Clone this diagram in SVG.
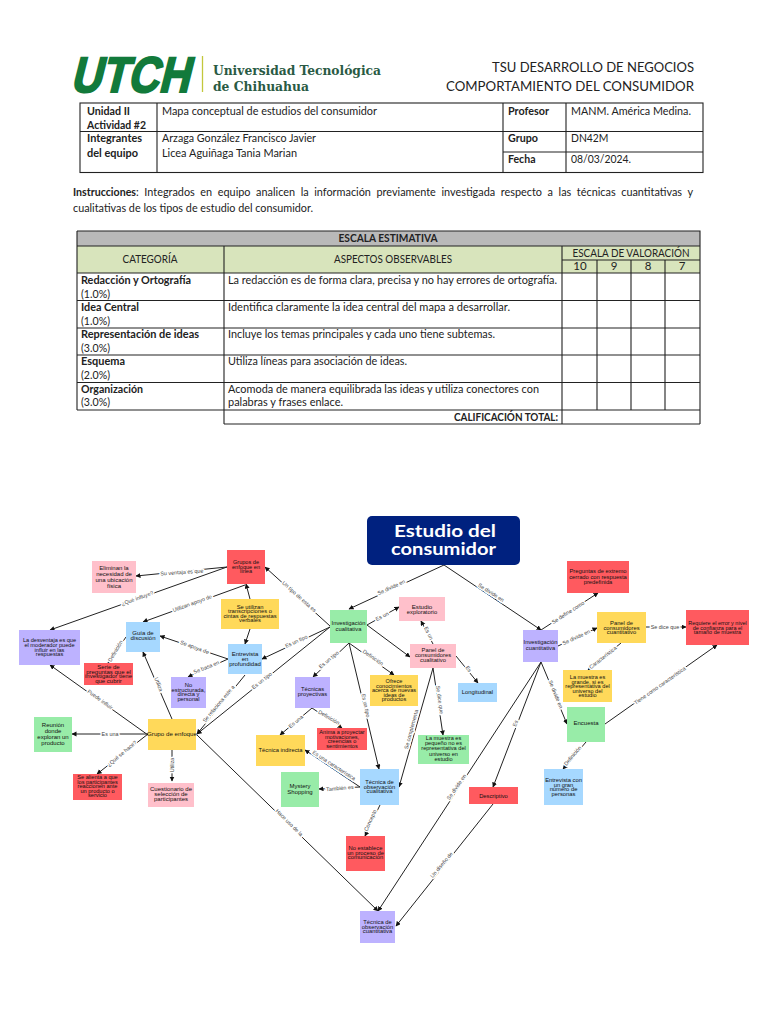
<svg xmlns="http://www.w3.org/2000/svg" width="768" height="1024" viewBox="0 0 768 1024">
<style>
.h{font-family:Lato,"Open Sans","Liberation Sans",sans-serif;fill:#222;font-size:11.5px}
.b{font-weight:700}
.c{text-anchor:middle}
.tl{fill:none;stroke:#222;stroke-width:1.1}
.n{font-family:"Liberation Sans",Arial,sans-serif;fill:#111;text-anchor:middle;font-size:5.8px}
.l{font-family:"Liberation Sans",Arial,sans-serif;fill:#444;text-anchor:middle;font-size:5.4px;paint-order:stroke;stroke:#fff;stroke-width:3px;stroke-linejoin:round}
.e{fill:none;stroke:#222;stroke-width:1;marker-end:url(#a)}
.red{fill:#ff5a5f}.pink{fill:#ffc0cb}.yel{fill:#ffd95a}.blue{fill:#a6d8ff}.pur{fill:#bdb2ff}.grn{fill:#98eca8}
</style>
<defs><marker id="a" markerUnits="userSpaceOnUse" markerWidth="6" markerHeight="6" refX="4.5" refY="2.5" orient="auto"><path d="M0 0L5 2.5L0 5Z" fill="#111"/></marker></defs>
<rect width="768" height="1024" fill="#fff"/>

<g id="logo">
<text x="0" y="0" transform="translate(70 92) skewX(-14)" font-family="Liberation Sans,sans-serif" font-weight="700" font-size="50" fill="#127a3b" stroke="#127a3b" stroke-width="2" textLength="119" lengthAdjust="spacingAndGlyphs">UTCH</text>
<line x1="202.500" y1="56" x2="202.500" y2="92" stroke="#c3c73c" stroke-width="1.300"/>
<text x="213" y="75" font-family="DejaVu Serif Condensed,DejaVu Serif,serif" font-weight="700" font-size="13" fill="#2a5a44" textLength="168" lengthAdjust="spacingAndGlyphs">Universidad Tecnológica</text>
<text x="213" y="91" font-family="DejaVu Serif Condensed,DejaVu Serif,serif" font-weight="700" font-size="13" fill="#2a5a44" textLength="96" lengthAdjust="spacingAndGlyphs">de Chihuahua</text>
</g>
<text class="h" x="492" y="72" style="font-size:14px" textLength="202" lengthAdjust="spacingAndGlyphs">TSU DESARROLLO DE NEGOCIOS</text>
<text class="h" x="446" y="91" style="font-size:14px" textLength="248" lengthAdjust="spacingAndGlyphs">COMPORTAMIENTO DEL CONSUMIDOR</text>

<g id="tabla-datos">
<rect class="tl" x="80" y="103" width="623" height="69.500"/>
<path class="tl" d="M80 131.500H703M157 103V172.500M503 103V172.500M566 103V172.500M503 152H703"/>
<text class="h b" x="87" y="115" textLength="43" lengthAdjust="spacingAndGlyphs">Unidad II</text>
<text class="h b" x="87" y="129" textLength="59" lengthAdjust="spacingAndGlyphs">Actividad #2</text>
<text class="h b" x="87" y="142" textLength="55" lengthAdjust="spacingAndGlyphs">Integrantes</text>
<text class="h b" x="87" y="157" textLength="51" lengthAdjust="spacingAndGlyphs">del equipo</text>
<text class="h" x="162" y="115" textLength="215" lengthAdjust="spacingAndGlyphs">Mapa conceptual de estudios del consumidor</text>
<text class="h" x="162" y="142" textLength="154" lengthAdjust="spacingAndGlyphs">Arzaga González Francisco Javier</text>
<text class="h" x="162" y="157" textLength="135" lengthAdjust="spacingAndGlyphs">Licea Aguiñaga Tania Marian</text>
<text class="h b" x="508" y="115" textLength="41" lengthAdjust="spacingAndGlyphs">Profesor</text>
<text class="h b" x="508" y="142" textLength="30" lengthAdjust="spacingAndGlyphs">Grupo</text>
<text class="h b" x="508" y="163" textLength="27.500" lengthAdjust="spacingAndGlyphs">Fecha</text>
<text class="h" x="571" y="115" textLength="120" lengthAdjust="spacingAndGlyphs">MANM. América Medina.</text>
<text class="h" x="571" y="142" textLength="37.500" lengthAdjust="spacingAndGlyphs">DN42M</text>
<text class="h" x="571" y="163" textLength="60" lengthAdjust="spacingAndGlyphs">08/03/2024.</text>
</g>

<text class="h b" x="73" y="196" textLength="63" lengthAdjust="spacingAndGlyphs">Instrucciones</text>
<text class="h" x="136" y="196" word-spacing="3" textLength="557" lengthAdjust="spacingAndGlyphs">: Integrados en equipo analicen la información previamente investigada respecto a las técnicas cuantitativas y</text>
<text class="h" x="73" y="212" textLength="240" lengthAdjust="spacingAndGlyphs">cualitativas de los tipos de estudio del consumidor.</text>

<g id="tabla-escala">
<rect x="77" y="231" width="623" height="15" fill="#b9b9b9"/>
<rect x="77" y="246" width="623" height="27" fill="#d8e4bc"/>
<path class="tl" d="M77 231H700V410M77 231V410M77 246H700M77 273H700M77 300.500H700M77 328H700M77 355H700M77 382.500H700M77 410H700M224 246V424M562 246V424M562 260H700M597 260V410M631 260V410M665 260V410M224 424H700M700 410V424"/>
<text class="h b c" x="388" y="242" textLength="99" lengthAdjust="spacingAndGlyphs">ESCALA ESTIMATIVA</text>
<text class="h c" x="150" y="263" textLength="55" lengthAdjust="spacingAndGlyphs">CATEGORÍA</text>
<text class="h c" x="393" y="263" textLength="118" lengthAdjust="spacingAndGlyphs">ASPECTOS OBSERVABLES</text>
<text class="h c" x="631" y="257" textLength="117" lengthAdjust="spacingAndGlyphs">ESCALA DE VALORACIÓN</text>
<text class="h c" x="580" y="270">10</text><text class="h c" x="614" y="270">9</text><text class="h c" x="648" y="270">8</text><text class="h c" x="682" y="270">7</text>
<text class="h b" x="81" y="284" textLength="110" lengthAdjust="spacingAndGlyphs">Redacción y Ortografía</text>
<text class="h" x="81" y="298" textLength="29" lengthAdjust="spacingAndGlyphs">(1.0%)</text>
<text class="h b" x="81" y="311" textLength="58" lengthAdjust="spacingAndGlyphs">Idea Central</text>
<text class="h" x="81" y="325" textLength="29" lengthAdjust="spacingAndGlyphs">(1.0%)</text>
<text class="h b" x="81" y="338" textLength="118" lengthAdjust="spacingAndGlyphs">Representación de ideas</text>
<text class="h" x="81" y="352" textLength="29" lengthAdjust="spacingAndGlyphs">(3.0%)</text>
<text class="h b" x="81" y="365" textLength="44" lengthAdjust="spacingAndGlyphs">Esquema</text>
<text class="h" x="81" y="379" textLength="29" lengthAdjust="spacingAndGlyphs">(2.0%)</text>
<text class="h b" x="81" y="393" textLength="62" lengthAdjust="spacingAndGlyphs">Organización</text>
<text class="h" x="81" y="406" textLength="29" lengthAdjust="spacingAndGlyphs">(3.0%)</text>
<text class="h" x="228" y="284" textLength="329" lengthAdjust="spacingAndGlyphs">La redacción es de forma clara, precisa y no hay errores de ortografía.</text>
<text class="h" x="228" y="311" textLength="282" lengthAdjust="spacingAndGlyphs">Identifica claramente la idea central del mapa a desarrollar.</text>
<text class="h" x="228" y="338" textLength="267" lengthAdjust="spacingAndGlyphs">Incluye los temas principales y cada uno tiene subtemas.</text>
<text class="h" x="228" y="365" textLength="179" lengthAdjust="spacingAndGlyphs">Utiliza líneas para asociación de ideas.</text>
<text class="h" x="228" y="393" textLength="311" lengthAdjust="spacingAndGlyphs">Acomoda de manera equilibrada las ideas y utiliza conectores con</text>
<text class="h" x="228" y="406" textLength="115" lengthAdjust="spacingAndGlyphs">palabras y frases enlace.</text>
<text class="h b" x="454" y="421" textLength="104" lengthAdjust="spacingAndGlyphs">CALIFICACIÓN TOTAL:</text>
</g>

<g id="conectores">
<path class="e" d="M444 565L349 609"/><text class="l" transform="translate(392 589) rotate(-25)">Se divide en</text>
<path class="e" d="M444 565L541 630"/><text class="l" transform="translate(490 594) rotate(33)">Se divide en</text>
<path class="e" d="M330 626L265 567"/><text class="l" transform="translate(298 598) rotate(42)">Un tipo de esta es</text>
<path class="e" d="M330 627L262 659"/><text class="l" transform="translate(297 643) rotate(-25)">Es un tipo</text>
<path class="e" d="M330 627L197 734"/><text class="l" transform="translate(263 682) rotate(-38)">Es un tipo</text>
<path class="e" d="M245 675L197 734"/><text class="l" transform="translate(220 705) rotate(-50)">Se relaciona este a</text>
<path class="e" d="M197 735L378 911"/><text class="l" transform="translate(288 824) rotate(45)">Hace uso de la</text>
<path class="e" d="M541 662L378 911"/><text class="l" transform="translate(458 788) rotate(-55)">Se divide en</text>
<path class="e" d="M541 662L493 787"/><text class="l" transform="translate(517 724) rotate(-70)">Es</text>
<path class="e" d="M493 804L396 926"/><text class="l" transform="translate(443 866) rotate(-50)">Un diseño de</text>
<path class="e" d="M367 625L399 607"/><text class="l" transform="translate(383 618) rotate(-27)">Es un</text>
<path class="e" d="M367 625L410 657"/>
<path class="e" d="M433 644L421 621"/><text class="l" transform="translate(427 634) rotate(65)">Es un</text>
<path class="e" d="M456 656L478 683"/><text class="l" transform="translate(467 670) rotate(55)">Es</text>
<path class="e" d="M433 668L443 735"/><text class="l" transform="translate(438 700) rotate(82)">Se dice que</text>
<path class="e" d="M433 668L399 787"/><text class="l" transform="translate(413 730) rotate(-75)">Se complementa</text>
<path class="e" d="M349 643L313 677"/><text class="l" transform="translate(330 661) rotate(-40)">Es un tipo</text>
<path class="e" d="M349 643L394 675"/><text class="l" transform="translate(372 659) rotate(35)">Definición</text>
<path class="e" d="M349 643L379 769"/><text class="l" transform="translate(364 706) rotate(78)">Es un tipo</text>
<path class="e" d="M312 708L280 735"/><text class="l" transform="translate(297 723) rotate(-40)">Es una</text>
<path class="e" d="M312 708L342 728"/><text class="l" transform="translate(328 719) rotate(30)">Definición</text>
<path class="e" d="M360 787L305 750"/><text class="l" transform="translate(333 767) rotate(33)">Es una característica</text>
<path class="e" d="M360 787L319 789"/><text class="l" transform="translate(340 790) rotate(-5)">También es</text>
<path class="e" d="M380 805L365 836"/><text class="l" transform="translate(372 821) rotate(-65)">Concepto</text>
<path class="e" d="M227 567L136 576"/><text class="l" transform="translate(182 574) rotate(-4)">Su ventaja es que</text>
<path class="e" d="M227 567L50 630"/><text class="l" transform="translate(138 600) rotate(-20)">¿Qué influye?</text>
<path class="e" d="M250 599L246 584"/>
<path class="e" d="M250 629L245 644"/>
<path class="e" d="M245 585L143 622"/><text class="l" transform="translate(193 605) rotate(-20)">Utilizan apoyo de</text>
<path class="e" d="M228 659L160 636"/><text class="l" transform="translate(194 649) rotate(20)">Se apoya de</text>
<path class="e" d="M228 659L188 677"/><text class="l" transform="translate(207 669) rotate(-22)">Se basa en</text>
<path class="e" d="M126 637L108 663"/><text class="l" transform="translate(117 652) rotate(-60)">Definición</text>
<path class="e" d="M172 719L143 652"/><text class="l" transform="translate(157 685) rotate(68)">Utiliza</text>
<path class="e" d="M148 735L50 665"/><text class="l" transform="translate(99 701) rotate(36)">Puede influir</text>
<path class="e" d="M148 734L72 734"/><text class="l" transform="translate(110 736)">Es una</text>
<path class="e" d="M148 734L97 774"/><text class="l" transform="translate(123 755) rotate(-40)">¿Qué se hace?</text>
<path class="e" d="M172 750L172 781"/><text class="l" transform="translate(174 765) rotate(-90)">Utiliza</text>
<path class="e" d="M541 630L598 593"/><text class="l" transform="translate(569 614) rotate(-33)">Se define como</text>
<path class="e" d="M558 646L597 628"/><text class="l" transform="translate(577 639) rotate(-25)">Se divide en</text>
<path class="e" d="M646 627L686 627"/><text class="l" transform="translate(665 629)">Se dice que</text>
<path class="e" d="M621 643L588 670"/><text class="l" transform="translate(604 659) rotate(-38)">Característica</text>
<path class="e" d="M541 662L567 724"/><text class="l" transform="translate(554 695) rotate(68)">Se divide en</text>
<path class="e" d="M605 724L717 645"/><text class="l" transform="translate(661 687) rotate(-35)">Tiene como característica</text>
<path class="e" d="M586 742L563 769"/><text class="l" transform="translate(574 757) rotate(-50)">Definición</text>
</g>

<g id="n-titulo"><rect x="367" y="516" width="153" height="49" rx="5" fill="#00217f"/>
<text x="394" y="537" font-family="Lato,Inter,sans-serif" font-weight="700" font-size="17.500" fill="#fff" textLength="102" lengthAdjust="spacingAndGlyphs">Estudio del</text>
<text x="391" y="555" font-family="Lato,Inter,sans-serif" font-weight="700" font-size="17.500" fill="#fff" textLength="105" lengthAdjust="spacingAndGlyphs">consumidor</text></g>

<g id="n-eliminan"><rect class="pink" x="92" y="561" width="44" height="32"/><text class="n" style="font-size:6px"><tspan x="114" y="570">Eliminan la</tspan><tspan x="114" y="576">necesidad de</tspan><tspan x="114" y="582">una ubicación</tspan><tspan x="114" y="588">física</tspan></text></g>
<g id="n-grupos-linea"><rect class="red" x="227" y="550" width="38" height="34"/><text class="n" style="font-size:5.600px"><tspan x="246" y="564">Grupos de</tspan><tspan x="246" y="568.600">enfoque en</tspan><tspan x="246" y="573.200">línea</tspan></text></g>
<g id="n-utilizan"><rect class="yel" x="221" y="599" width="58" height="30"/><text class="n"><tspan x="250" y="608.700">Se utilizan</tspan><tspan x="250" y="613.200">transcripciones o</tspan><tspan x="250" y="617.700">cintas de respuestas</tspan><tspan x="250" y="622.200">verbales</tspan></text></g>
<g id="n-entrevista"><rect class="blue" x="228" y="644" width="34" height="30"/><text class="n" style="font-size:6px"><tspan x="245" y="656">Entrevista</tspan><tspan x="245" y="661">en</tspan><tspan x="245" y="666">profundidad</tspan></text></g>
<g id="n-guia"><rect class="blue" x="126" y="622" width="34" height="30"/><text class="n" style="font-size:6px"><tspan x="143" y="635.300">Guía de</tspan><tspan x="143" y="640">discusión</tspan></text></g>
<g id="n-desventaja"><rect class="pur" x="19" y="630" width="61" height="35"/><text class="n" style="font-size:5.600px"><tspan x="49.500" y="642.300">La desventaja es que</tspan><tspan x="49.500" y="646.900">el moderador puede</tspan><tspan x="49.500" y="651.500">influir en las</tspan><tspan x="49.500" y="656.100">respuestas</tspan></text></g>
<g id="n-serie"><rect class="red" x="84" y="663" width="49" height="22"/><text class="n" style="font-size:6px"><tspan x="108.500" y="669">Serie de</tspan><tspan x="108.500" y="673.600">preguntas que el</tspan><tspan x="108.500" y="678.200">investigador tiene</tspan><tspan x="108.500" y="682.800">que cubrir</tspan></text></g>
<g id="n-no-estructurada"><rect class="pur" x="171" y="677" width="35" height="31"/><text class="n"><tspan x="188.500" y="687">No</tspan><tspan x="188.500" y="691.600">estructurada,</tspan><tspan x="188.500" y="696.200">directa y</tspan><tspan x="188.500" y="700.800">personal</tspan></text></g>
<g id="n-reunion"><rect class="grn" x="34" y="717" width="38" height="35"/><text class="n" style="font-size:6px"><tspan x="53" y="727">Reunión</tspan><tspan x="53" y="733">donde</tspan><tspan x="53" y="739">exploran un</tspan><tspan x="53" y="745">producto</tspan></text></g>
<g id="n-grupo-enfoque"><rect class="yel" x="148" y="719" width="48" height="31"/><text class="n" style="font-size:6.200px"><tspan x="172" y="736.200">Grupo de enfoque</tspan></text></g>
<g id="n-alienta"><rect class="red" x="73" y="774" width="49" height="26"/><text class="n" style="font-size:5.600px"><tspan x="97.500" y="779.300">Se alienta a que</tspan><tspan x="97.500" y="783.800">los participantes</tspan><tspan x="97.500" y="788.300">reaccionen ante</tspan><tspan x="97.500" y="792.800">un producto o</tspan><tspan x="97.500" y="797.300">servicio</tspan></text></g>
<g id="n-cuestionario"><rect class="pink" x="148" y="783" width="46" height="24"/><text class="n" style="font-size:6px"><tspan x="171" y="791.300">Cuestionario de</tspan><tspan x="171" y="796">selección de</tspan><tspan x="171" y="800.700">participantes</tspan></text></g>
<g id="n-inv-cual"><rect class="grn" x="330" y="610" width="37" height="33"/><text class="n"><tspan x="348.500" y="625">Investigación</tspan><tspan x="348.500" y="631">cualitativa</tspan></text></g>
<g id="n-estudio"><rect class="pink" x="399" y="597" width="46" height="24"/><text class="n"><tspan x="422" y="609" style="font-size:6.200px">Estudio</tspan><tspan x="422" y="613.500">exploratorio</tspan></text></g>
<g id="n-panel-cual"><rect class="pink" x="410" y="644" width="46" height="24"/><text class="n"><tspan x="433" y="652.300">Panel de</tspan><tspan x="433" y="656.900">consumidores</tspan><tspan x="433" y="661.500">cualitativo</tspan></text></g>
<g id="n-longitudinal"><rect class="blue" x="458" y="683" width="39" height="19"/><text class="n"><tspan x="477.500" y="694">Longitudinal</tspan></text></g>
<g id="n-proyectivas"><rect class="pur" x="295" y="677" width="35" height="31"/><text class="n"><tspan x="312.500" y="691.300">Técnicas</tspan><tspan x="312.500" y="696">proyectivas</tspan></text></g>
<g id="n-ofrece"><rect class="yel" x="370" y="675" width="48" height="31"/><text class="n" style="font-size:5.600px"><tspan x="394" y="683.300">Ofrece</tspan><tspan x="394" y="687.800">conocimientos</tspan><tspan x="394" y="692.300">acerca de nuevas</tspan><tspan x="394" y="696.800">ideas de</tspan><tspan x="394" y="701.300">productos</tspan></text></g>
<g id="n-anima"><rect class="red" x="317" y="728" width="50" height="22"/><text class="n" style="font-size:5.600px"><tspan x="342" y="734.200">Anima a proyectar</tspan><tspan x="342" y="738.700">motivaciones,</tspan><tspan x="342" y="743.200">creencias o</tspan><tspan x="342" y="747.700">sentimientos</tspan></text></g>
<g id="n-indirecta"><rect class="yel" x="256" y="735" width="49" height="31"/><text class="n"><tspan x="280.500" y="751.500">Técnica indirecta</tspan></text></g>
<g id="n-muestra-peq"><rect class="grn" x="418" y="735" width="51" height="29"/><text class="n" style="font-size:5.600px"><tspan x="443.500" y="740">La muestra es</tspan><tspan x="443.500" y="745.200">pequeño no es</tspan><tspan x="443.500" y="750.400">representativa del</tspan><tspan x="443.500" y="755.600">universo en</tspan><tspan x="443.500" y="760.800">estudio</tspan></text></g>
<g id="n-mystery"><rect class="grn" x="281" y="772" width="38" height="35"/><text class="n" style="font-size:6px"><tspan x="300" y="788">Mystery</tspan><tspan x="300" y="794">Shopping</tspan></text></g>
<g id="n-obs-cual"><rect class="blue" x="360" y="769" width="39" height="36"/><text class="n"><tspan x="379.500" y="784">Técnica de</tspan><tspan x="379.500" y="788.600">observación</tspan><tspan x="379.500" y="793.200">cualitativa</tspan></text></g>
<g id="n-no-establece"><rect class="red" x="346" y="836" width="39" height="35"/><text class="n"><tspan x="365.500" y="850.300">No establece</tspan><tspan x="365.500" y="854.800">un proceso de</tspan><tspan x="365.500" y="859.300">comunicación</tspan></text></g>
<g id="n-descriptivo"><rect class="red" x="469" y="787" width="49" height="17"/><text class="n"><tspan x="493.500" y="797.500">Descriptivo</tspan></text></g>
<g id="n-obs-cuant"><rect class="pur" x="360" y="911" width="35" height="32"/><text class="n"><tspan x="377.500" y="924">Técnica de</tspan><tspan x="377.500" y="928.600">observación</tspan><tspan x="377.500" y="933.200">cuantitativa</tspan></text></g>
<g id="n-preguntas"><rect class="red" x="567" y="561" width="62" height="32"/><text class="n"><tspan x="598" y="573">Preguntas de extremo</tspan><tspan x="598" y="578.600">cerrado con respuesta</tspan><tspan x="598" y="584.200">predefinida</tspan></text></g>
<g id="n-inv-cuant"><rect class="pur" x="523" y="630" width="35" height="32"/><text class="n"><tspan x="540.500" y="644">Investigación</tspan><tspan x="540.500" y="650">cuantitativa</tspan></text></g>
<g id="n-panel-cuant"><rect class="yel" x="597" y="612" width="49" height="31"/><text class="n"><tspan x="621.500" y="625">Panel de</tspan><tspan x="621.500" y="629.600">consumidores</tspan><tspan x="621.500" y="634.200">cuantitativo</tspan></text></g>
<g id="n-requiere"><rect class="red" x="686" y="610" width="63" height="35"/><text class="n" style="font-size:5.500px"><tspan x="717.500" y="625">Requiere el error y nivel</tspan><tspan x="717.500" y="629.600">de confianza para el</tspan><tspan x="717.500" y="634.200">tamaño de muestra</tspan></text></g>
<g id="n-muestra-gra"><rect class="yel" x="563" y="670" width="49" height="32"/><text class="n" style="font-size:5.600px"><tspan x="587.500" y="679">La muestra es</tspan><tspan x="587.500" y="683.500">grande, si es</tspan><tspan x="587.500" y="688">representativa del</tspan><tspan x="587.500" y="692.500">universo del</tspan><tspan x="587.500" y="697">estudio</tspan></text></g>
<g id="n-encuesta"><rect class="grn" x="567" y="707" width="38" height="35"/><text class="n" style="font-size:6px"><tspan x="586" y="725">Encuesta</tspan></text></g>
<g id="n-entrevista-con"><rect class="blue" x="544" y="769" width="39" height="36"/><text class="n"><tspan x="563.500" y="782">Entrevista con</tspan><tspan x="563.500" y="786.600">un gran</tspan><tspan x="563.500" y="791.200">número de</tspan><tspan x="563.500" y="795.800">personas</tspan></text></g>
</svg>
